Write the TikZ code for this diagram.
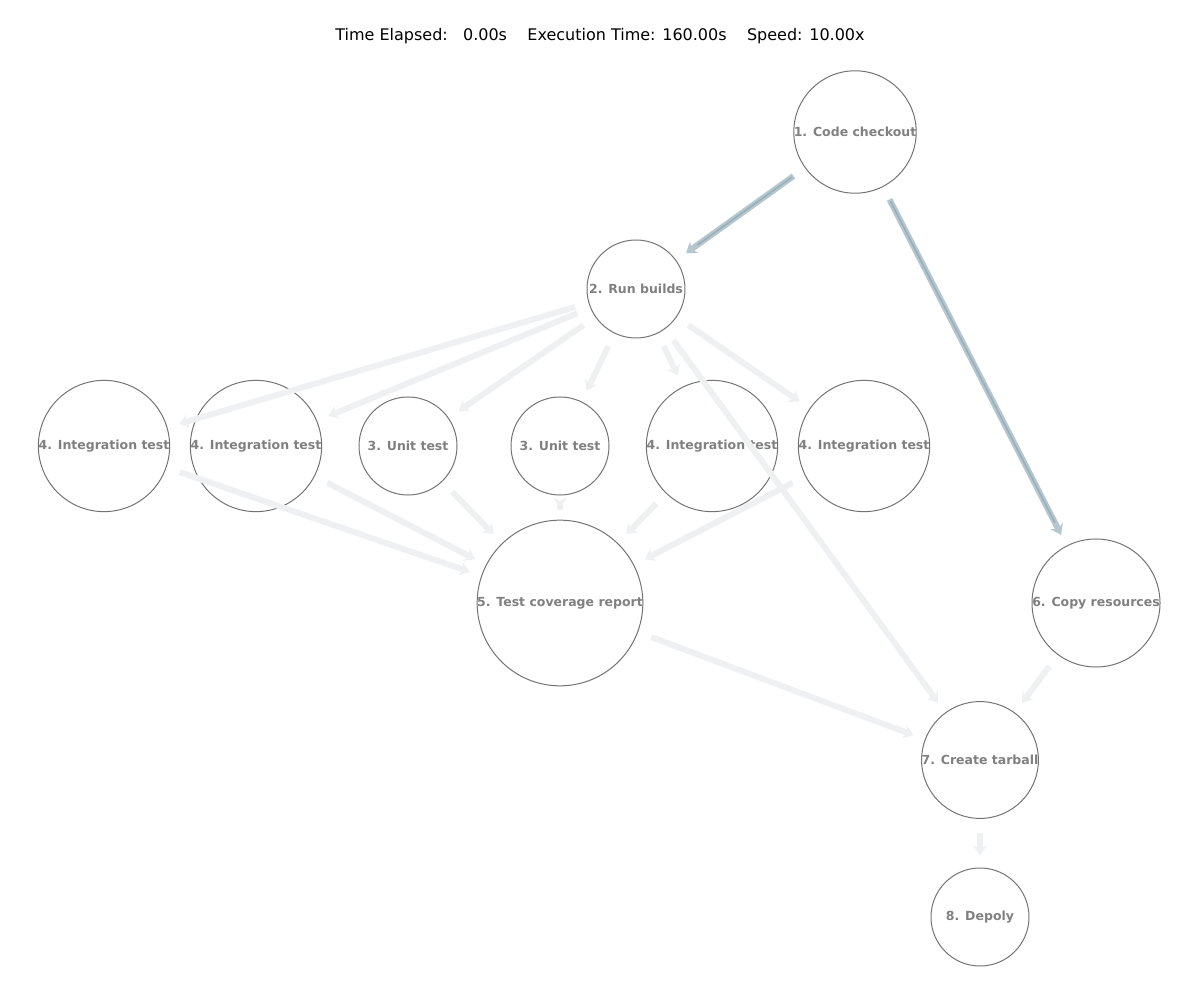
\documentclass[tikz,border=0pt]{standalone}
\usepackage{fontspec}
\setmainfont{DejaVu Sans}
\usetikzlibrary{arrows.meta}
\definecolor{lite}{HTML}{EEF0F2}
\definecolor{dark}{HTML}{B4C6CE}
\definecolor{darkc}{HTML}{98AEB8}
\begin{document}
\begin{tikzpicture}[x=1pt,y=-1pt,
 task/.style={circle,draw=black!55,line width=1pt,minimum size=98pt,inner sep=0pt,
   font=\fontsize{12.5}{14}\selectfont\bfseries,text=black!50},
 edge/.style={draw=lite,line width=6pt,-{Stealth[length=10pt,width=14pt]},shorten <=14pt,shorten >=12pt},
 hot/.style={draw=dark,line width=6pt,-{Stealth[length=10pt,width=14pt]},shorten <=14pt,shorten >=12pt}]
\useasboundingbox (0,0) rectangle (1200,1000);
\node[font=\fontsize{16}{18}\selectfont] (title) at (600,36) {Time Elapsed:\ \ \ 0.00s\ \ \ \ Execution Time: 160.00s\ \ \ \ Speed: 10.00x};
\node[task] (n1) at (855,132) {1. Code checkout};
\node[task] (n2) at (636,289) {2. Run builds};
\node[task] (a) at (104,446) {4. Integration test};
\node[task] (b) at (256,446) {4. Integration test};
\node[task] (c) at (408,446) {3. Unit test};
\node[task] (d) at (560,446) {3. Unit test};
\node[task] (e) at (712,446) {4. Integration test};
\node[task] (f) at (864,446) {4. Integration test};
\node[task] (n5) at (560,603) {5. Test coverage report};
\node[task] (n6) at (1096,603) {6. Copy resources};
\node[task] (n7) at (980,760) {7. Create tarball};
\node[task] (n8) at (980,917) {8. Depoly};
\begin{scope}[on background layer/.style={}]
\foreach \t in {a,b,c,d,e,f} {\draw[edge] (n2) -- (\t); \draw[edge] (\t) -- (n5);}
\draw[edge] (n2) -- (n7);
\draw[edge] (n5) -- (n7);
\draw[edge] (n6) -- (n7);
\draw[edge] (n7) -- (n8);
\draw[hot] (n1) -- (n2);
\draw[hot] (n1) -- (n6);
\draw[draw=darkc,line width=1.5pt,shorten <=16pt,shorten >=26pt] (n1) -- (n2);
\draw[draw=darkc,line width=1.5pt,shorten <=16pt,shorten >=26pt] (n1) -- (n6);
\end{scope}
\end{tikzpicture}
\end{document}
